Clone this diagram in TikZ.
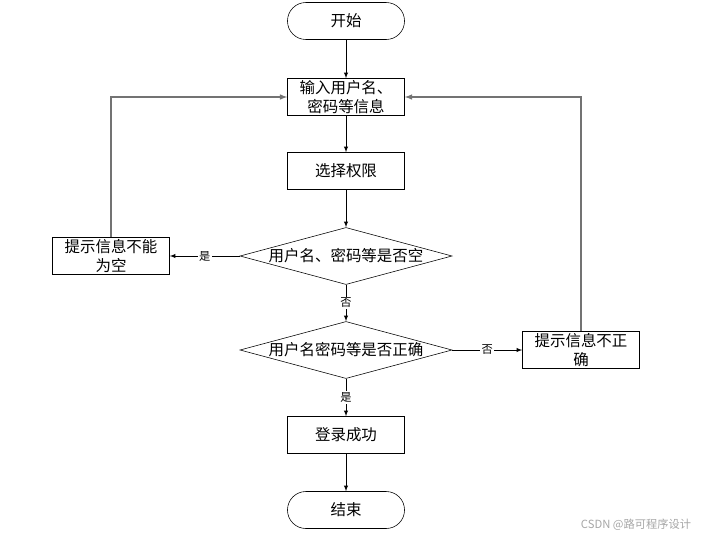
\documentclass[tikz,border=0pt]{standalone}
\usepackage{fontspec}
\newfontfamily\cjk{Noto Sans CJK SC}
\usetikzlibrary{arrows,shapes.geometric}
\begin{document}
\begin{tikzpicture}[x=0.025cm,y=-0.025cm,font=\cjk\fontsize{11}{13}\selectfont,
  box/.style={draw,rectangle,minimum width=2.925cm,minimum height=0.925cm,align=center,inner sep=1pt},
  term/.style={draw,rectangle,rounded corners=0.46cm,minimum width=2.925cm,minimum height=0.925cm},
  test/.style={draw,diamond,minimum width=5.3cm,minimum height=1.425cm,inner sep=0pt},
  yn/.style={fill=white,inner sep=1pt,font=\cjk\fontsize{8}{9}\selectfont}]
              \useasboundingbox (0,0) rectangle (714,540);
              \node[term](a)at(346,21){开始};
              \node[box](b)at(346,97){输入用户名、\\密码等信息};
              \node[box](c)at(346,171){选择权限};
              \node[test,label={center:用户名、密码等是否空}](d)at(346,256){};
              \node[box](e)at(111,256){提示信息不能\\为空};
              \node[test,label={center:用户名密码等是否正确}](f)at(346,350){};
              \node[box](g)at(581,350){提示信息不正\\确};
              \node[box](h)at(346,435){登录成功};
              \node[term](i)at(346,510){结束};
              \draw[-latex](a)--(b);
              \draw[-latex](b)--(c);
              \draw[-latex](c)--(d);
              \draw[-latex](d)--node[yn]{是}(e);
              \draw[-latex](d)--node[yn]{否}(f);
              \draw[-latex](f)--node[yn]{否}(g);
              \draw[-latex](f)--node[yn]{是}(h);
              \draw[-latex](h)--(i);
              \draw[-latex,black!55,line width=0.8pt](e)|-(b);
              \draw[-latex,black!55,line width=0.8pt](g)|-(b);
              \node[text=black!35,font=\cjk\fontsize{8}{9}\selectfont](w)at(636,525){CSDN @路可程序设计};
            \end{tikzpicture}
\end{document}
